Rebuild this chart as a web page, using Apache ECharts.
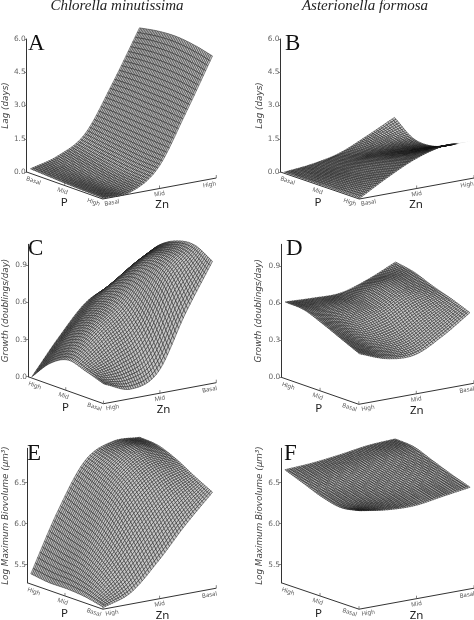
<!DOCTYPE html>
<html><head><meta charset="utf-8">
<style>html,body{margin:0;padding:0;background:#fff}#c{width:474px;height:620px}</style>
<script src="https://cdn.jsdelivr.net/npm/echarts@6/dist/echarts.min.js"></script>
</head><body><div id="c"></div>
<script>
// Read values: rows = P level (axis order), columns = Zn level (axis order)
const lagChlorella = [
 [.15,.5,1.27,3.3,5.6],
 [.1,.35,1.15,3.3,5.75],
 [.05,.2,1.05,3.25,5.8],
 [.02,.1,.95,3.2,5.7],
 [0,.05,.9,3.1,5.5]];
const lagAsterionella = [
 [0,.13,.4,.95,1.56],
 [0,.2,.55,.8,.9],
 [0,.35,.8,.9,.85],
 [0,.5,1.05,1.2,1.2],
 [0,.7,1.3,1.65,1.65]];
const growthChlorella = [
 [0,.28,.52,.63,.77],
 [.16,.42,.62,.82,.95],
 [.24,.45,.62,.9,1.04],
 [.2,.3,.45,.85,1.06],
 [.15,.07,.17,.6,.98]];
const growthAsterionella = [
 [.61,.60,.60,.67,.77],
 [.60,.58,.60,.70,.74],
 [.54,.50,.55,.65,.68],
 [.47,.40,.42,.53,.63],
 [.40,.32,.31,.42,.57]];
const biovolChlorella = [
 [5.39,6.1,6.65,6.82,6.81],
 [5.36,6.0,6.55,6.8,6.79],
 [5.36,5.9,6.4,6.65,6.7],
 [5.34,5.7,6.1,6.4,6.57],
 [5.29,5.41,5.73,6.11,6.45]];
const biovolAsterionella = [
 [6.66,6.68,6.72,6.77,6.79],
 [6.57,6.62,6.68,6.74,6.77],
 [6.48,6.52,6.58,6.64,6.68],
 [6.43,6.45,6.48,6.53,6.59],
 [6.47,6.42,6.41,6.46,6.51]];
const ascending = ['Basal','Mid','High'];
const descending = ['High','Mid','Basal'];
const lagTicks = [0,1.5,3,4.5,6];
const growthTicks = [0,.3,.6,.9];
const biovolTicks = [5.5,6,6.5];
const speciesNames = ['Chlorella minutissima','Asterionella formosa'];

// Layout only
const panels = [
 {l:'A',g:lagChlorella,o:[24.3,172],top:39,min:0,max:6,t:lagTicks,n:'Lag (days)',lv:ascending,p:[77,27],z:[115,-21],gap:16},
 {l:'B',g:lagAsterionella,o:[280.5,172],top:39,min:0,max:6,t:lagTicks,n:'Lag (days)',lv:ascending,p:[79,27],z:[115,-21],gap:16,fadeFrom:440},
 {l:'C',g:growthChlorella,o:[24.3,376.7],top:244.3,min:0,max:1.07,t:growthTicks,n:'Growth (doublings/day)',lv:descending,p:[77,27],z:[115,-21],gap:18},
 {l:'D',g:growthAsterionella,o:[281.3,377.3],top:244.3,min:0,max:1.075,t:growthTicks,n:'Growth (doublings/day)',lv:descending,p:[77.5,27],z:[115,-21],gap:18},
 {l:'E',g:biovolChlorella,o:[24.3,582.7],top:448.3,min:5.28,max:6.92,t:biovolTicks,n:'Log Maximum Biovolume (µm³)',lv:descending,p:[77,26.5],z:[115,-21],gap:17},
 {l:'F',g:biovolAsterionella,o:[281,582.7],top:448.3,min:5.28,max:6.92,t:biovolTicks,n:'Log Maximum Biovolume (µm³)',lv:descending,p:[78,26.5],z:[115,-21],gap:17}
];
const MESH = 48, INSET = .02;

function cr(a,b,c,d,t){return .5*(2*b+(c-a)*t+(2*a-5*b+4*c-d)*t*t+(3*b-a-3*c+d)*t*t*t);}
function splineAt(r,f){ // spline through a row of read values, with straight run-out at the ends
  const n=r.length-1, i=Math.min(n-1,Math.floor(f)), t=f-i;
  const a=i>0?r[i-1]:2*r[0]-r[1], d=i<n-1?r[i+2]:2*r[n]-r[n-1];
  return cr(a,r[i],r[i+1],d,t);
}
function smoothAt(g,u,v){
  const n=g.length-1;
  return splineAt(g.map(r=>splineAt(r,v*n)),u*n);
}
const grid=[],xAxis=[],yAxis=[],series=[],graphic=[];
const FONT="'DejaVu Sans'";
panels.forEach((pn,k)=>{
  const W=pn.p[0]+pn.z[0], H=pn.o[1]-pn.top, pxPerUnit=H/(pn.max-pn.min);
  grid.push({left:pn.o[0],top:pn.top,width:W,height:H});
  xAxis.push({gridIndex:k,type:'value',min:0,max:W,show:false});
  yAxis.push({gridIndex:k,type:'value',min:pn.min,max:pn.max,splitLine:{show:false},
    axisLine:{show:true,onZero:false,lineStyle:{color:'#333',width:1}},
    axisTick:{show:true,length:2,customValues:pn.t,lineStyle:{color:'#555',width:.7}},
    axisLabel:{customValues:pn.t,margin:1,fontSize:7.4,fontFamily:FONT,color:'#666',formatter:v=>(+v).toFixed(1)},
    name:pn.n,nameLocation:'middle',nameGap:pn.gap,
    nameTextStyle:{fontSize:8.8,fontStyle:'italic',fontFamily:FONT,color:'#444'}});
  const proj=(P,Z,v)=>[P*pn.p[0]+Z*pn.z[0], v-(P*pn.p[1]+Z*pn.z[1])/pxPerUnit];
  series.push({type:'custom',coordinateSystem:'cartesian2d',xAxisIndex:k,yAxisIndex:k,
    clip:false,silent:true,animation:false,data:[[0,pn.min]],
    renderItem:(params,api)=>{
      const ch=[];
      const C=(P,Z,v)=>api.coord(proj(P,Z,v));
      const line=(a,b,w,col)=>({type:'line',shape:{x1:a[0],y1:a[1],x2:b[0],y2:b[1]},style:{stroke:col||'#333',lineWidth:w}});
      const o=C(0,0,pn.min), f=C(1,0,pn.min), e=C(1,1,pn.min);
      ch.push(line(o,f,1),line(f,e,1));
      const up=(a)=>line(a,[a[0],a[1]-3],.7,'#555');
      ch.push(up(C(.5,0,pn.min)),up(C(1,.5,pn.min)),up(e),up(f));
      const txt=(s,a,dy,rot,size,col)=>({type:'text',x:a[0],y:a[1]+dy,rotation:rot,
        style:{text:s,fontSize:size,fontFamily:"'Noto Sans'",fill:col,align:'center',verticalAlign:'middle'}});
      [.09,.47,.88].forEach((t,i)=>ch.push(txt(pn.lv[i],C(t,0,pn.min),6.5,-.33,6,'#555')));
      [.08,.5,.94].forEach((t,i)=>ch.push(txt(pn.lv[i],C(1,t,pn.min),5.5,.17,6,'#555')));
      ch.push(txt('P',[o[0]+37.5,o[1]+31],0,0,11.5,'#222'),txt('Zn',[o[0]+135.5,o[1]+33],0,0,11.5,'#222'));
      const pt=[];
      for(let i=0;i<=MESH;i++){pt.push([]);for(let j=0;j<=MESH;j++){
        const u=i/MESH,v=j/MESH;
        pt[i].push(C(INSET+(1-2*INSET)*u,INSET+(1-2*INSET)*v,smoothAt(pn.g,u,v)));}}
      for(let i=0;i<MESH;i++)for(let j=MESH-1;j>=0;j--){
        const q=pt[i][j];
        let a=1;
        if(pn.fadeFrom&&q[0]>pn.fadeFrom)a=Math.max(.02,1-(q[0]-pn.fadeFrom)/16);
        const fill=a<1?'rgba(215,215,215,'+a+')':'#c6c6c6';
        ch.push({type:'polygon',shape:{points:[pt[i][j],pt[i+1][j],pt[i+1][j+1],pt[i][j+1]]},
          style:{fill:fill,stroke:'rgba(17,17,17,'+a+')',lineWidth:.46}});
      }
      return {type:'group',children:ch};
    }});
  const lx=[37,294,37,295,36,293][k], ly=[45,45,250,250,455,455][k];
  graphic.push({type:'text',left:lx-9,top:ly-13,z:20,style:{text:pn.l,fontSize:23,fontFamily:"'Liberation Serif'",fill:'#111'}});
});
[[117,0],[365,1]].forEach(([x,i])=>graphic.push({type:'text',x:x,y:6,style:{text:speciesNames[i],
  fontSize:15,fontStyle:'italic',fontFamily:"'Liberation Serif'",fill:'#222',align:'center',verticalAlign:'middle'}}));
const chart=echarts.init(document.getElementById('c'),null,{renderer:'canvas'});
chart.setOption({animation:false,backgroundColor:'#fff',grid,xAxis,yAxis,series,graphic});
</script></body></html>
